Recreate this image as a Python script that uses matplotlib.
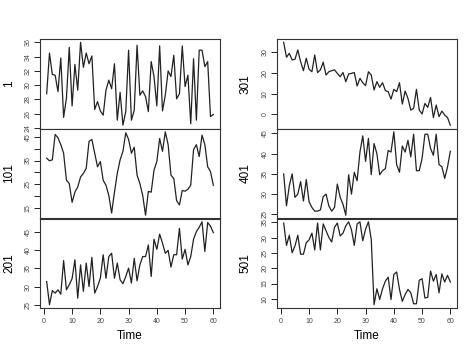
import numpy as np
import matplotlib
matplotlib.use('Agg')
import matplotlib.pyplot as plt

plt.rcParams['font.family'] = ['Liberation Sans', 'DejaVu Sans']

# 60 time points, 6 series
time = np.arange(1, 61)

s1 = [28.8, 34.5, 31.5, 31.4, 29.1, 33.8, 25.5, 28.2, 35.3, 27.1,
      32.9, 29.3, 36.0, 32.5, 34.5, 33.0, 34.1, 26.6, 27.7, 26.4,
      25.8, 29.3, 30.7, 29.5, 33.0, 25.1, 29.0, 24.4, 26.3, 34.9,
      25.1, 26.5, 35.6, 28.6, 29.2, 28.4, 26.3, 33.3, 31.2, 27.1,
      35.5, 26.4, 28.6, 32.0, 31.2, 34.2, 28.1, 28.8, 35.5, 29.8,
      31.4, 24.6, 33.7, 25.1, 34.9, 34.9, 32.6, 33.3, 25.6, 25.9]

s101 = [36.0, 34.9, 35.3, 46.0, 44.6, 41.7, 38.1, 26.7, 25.3, 17.4,
        21.7, 23.9, 28.1, 29.6, 31.7, 43.1, 43.9, 38.1, 32.4, 34.6,
        26.7, 24.6, 20.3, 12.9, 21.7, 29.6, 35.3, 38.9, 46.7, 43.9,
        38.1, 40.6, 28.9, 25.3, 20.3, 12.0, 22.0, 21.7, 31.0, 34.6,
        44.3, 38.9, 47.1, 41.7, 28.9, 27.4, 18.1, 16.3, 22.4, 22.1,
        22.9, 24.6, 39.6, 41.7, 36.7, 45.7, 41.7, 32.4, 30.3, 24.6]

s201 = [31.4, 25.0, 28.9, 28.2, 29.1, 27.9, 37.2, 29.1, 30.5, 32.2,
        37.4, 26.8, 36.0, 28.7, 36.5, 30.0, 38.1, 28.2, 30.0, 32.3,
        38.8, 32.3, 38.3, 39.2, 32.3, 36.5, 31.9, 30.8, 32.8, 35.1,
        31.0, 37.8, 31.6, 36.0, 38.3, 38.3, 41.5, 32.8, 43.1, 40.3,
        44.5, 42.0, 39.2, 40.0, 35.4, 38.8, 38.8, 46.1, 37.6, 40.3,
        36.0, 38.3, 43.1, 45.2, 46.4, 47.9, 39.7, 47.7, 46.7, 44.9]

s301 = [34.8, 27.6, 29.5, 26.3, 26.6, 31.1, 25.5, 21.1, 27.1, 21.8,
        20.6, 28.7, 20.2, 21.5, 25.2, 19.0, 20.6, 21.1, 21.5, 19.8,
        18.2, 20.2, 15.8, 19.5, 19.8, 20.2, 13.7, 17.4, 15.3, 13.9,
        20.6, 19.0, 11.8, 15.8, 13.1, 15.3, 11.5, 11.0, 7.4, 12.1,
        11.0, 15.3, 5.0, 11.3, 7.7, 2.1, 2.9, 12.1, 2.1, 0.2,
        5.3, 3.4, 8.2, -1.5, 4.5, -1.1, 1.6, -0.3, -1.5, -5.2]

s401 = [35.0, 27.1, 32.1, 35.0, 29.2, 30.0, 33.1, 28.3, 33.6, 28.1,
        26.7, 25.8, 25.8, 26.1, 29.4, 30.0, 27.1, 25.8, 26.7, 32.5,
        29.2, 27.5, 24.8, 34.8, 30.0, 35.4, 33.3, 40.4, 44.4, 38.1,
        43.8, 34.8, 42.5, 40.0, 34.8, 35.8, 36.3, 40.8, 40.4, 45.4,
        37.3, 35.4, 41.9, 40.4, 43.3, 39.2, 44.8, 35.8, 35.8, 38.8,
        44.8, 44.8, 41.3, 39.6, 44.8, 37.3, 36.8, 33.9, 36.7, 40.6]

s501 = [34.8, 27.5, 30.8, 25.1, 27.3, 30.8, 24.6, 24.6, 28.4, 29.3,
        31.5, 26.0, 34.8, 26.0, 34.5, 32.3, 30.1, 28.6, 33.4, 34.8,
        30.6, 31.5, 33.9, 35.2, 32.6, 27.5, 34.5, 35.2, 29.0, 32.8,
        35.2, 29.5, 8.1, 13.3, 9.8, 13.3, 15.8, 17.1, 9.8, 18.0,
        18.8, 13.1, 9.2, 11.4, 13.1, 12.0, 8.4, 8.4, 16.1, 16.6,
        10.3, 10.5, 19.1, 15.8, 18.0, 12.0, 18.2, 15.5, 17.7, 15.5]

names = ['1', '101', '201', '301', '401', '501']
series = [s1, s101, s201, s301, s401, s501]
yticks = [np.arange(24, 37, 2), np.arange(15, 46, 5), np.arange(25, 46, 5),
          np.arange(0, 31, 10), np.arange(25, 46, 5), np.arange(10, 36, 5)]
ylabeled = [np.arange(24, 37, 2), [15, 25, 35, 45], np.arange(25, 46, 5),
            np.arange(0, 31, 10), np.arange(25, 46, 5), np.arange(10, 36, 5)]
xticks = np.arange(0, 61, 10)

fig = plt.figure(figsize=(4.74, 3.55), dpi=100)
W, H = 474.0, 355.0
lefts = [40, 277]
tops = [39, 128.5, 218.5]
bottoms = [128.5, 218.5, 308]

def r_lim(v):
    lo, hi = min(v), max(v)
    d = (hi - lo) * 0.04
    return lo - d, hi + d

for i, (name, vals) in enumerate(zip(names, series)):
    col, row = i // 3, i % 3
    x0 = lefts[col] / W
    y0 = 1 - bottoms[row] / H
    h = (bottoms[row] - tops[row]) / H
    ax = fig.add_axes([x0, y0, 180 / W, h])
    ax.plot(time, vals, color='#222222', lw=0.9)
    ax.set_xlim(r_lim(time))
    ax.set_ylim(r_lim(vals))
    ax.set_yticks(yticks[i])
    ax.set_yticklabels([str(t) if t in list(ylabeled[i]) else '' for t in yticks[i]],
                       rotation=90, va='center')
    ax.tick_params(axis='y', length=4, width=0.6, pad=2, labelsize=5, labelcolor='#444444')
    ax.set_ylabel(name, fontsize=8.5, labelpad=7)
    for sp in ax.spines.values():
        sp.set_linewidth(0.8)
        sp.set_color('#333333')
    if row == 2:
        ax.set_xticks(xticks)
        ax.set_xticklabels([str(t) for t in xticks])
        ax.tick_params(axis='x', length=4, width=0.6, pad=3, labelsize=5, labelcolor='#444444')
        ax.set_xlabel('Time', fontsize=8.5, labelpad=4)
    else:
        ax.set_xticks([])

fig.savefig('out.png', dpi=100)
